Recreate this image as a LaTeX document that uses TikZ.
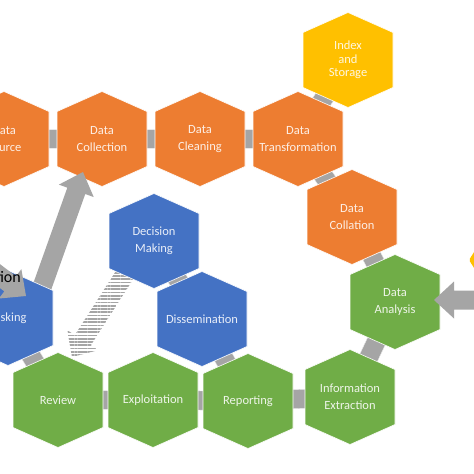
\documentclass[tikz,border=0pt]{standalone}
\usepackage{fontspec}
\setmainfont{Carlito}
\usetikzlibrary{calc, patterns.meta}

\definecolor{cellorange}{HTML}{ED7D31}
\definecolor{cellblue}{HTML}{4472C4}
\definecolor{cellgreen}{HTML}{70AD47}
\definecolor{cellyellow}{HTML}{FFC000}
\definecolor{linkgray}{HTML}{A5A5A5}

\pgfdeclarelayer{bg}
\pgfsetlayers{bg,main}

\tikzset{
    hexcell/.style={fill=#1, draw=white, line width=0.6pt},
    celltext/.style={text=white!88!#1, align=center, font=\fontsize{12.5}{17}\selectfont},
    link/.style={fill=linkgray, draw=white!75!linkgray, line width=0.4pt, minimum width=40pt, minimum height=19pt, inner sep=0pt, sloped},
    blockarrow/.style={fill=linkgray},
    stripes/.style={pattern={Lines[angle=0, distance=3.3pt, line width=1.7pt]}, pattern color=linkgray},
}

% name, position, colour, text
\newcommand{\hexcell}[5][]{%
    \path[hexcell=#4] (#3) ++(0,-\halfheight) -- ++(\halfwidth,\halfheight-\halfside) -- ++(0,2*\halfside)
        -- ++(-\halfwidth,\halfheight-\halfside) -- ++(-\halfwidth,-\halfheight+\halfside) -- ++(0,-2*\halfside) -- cycle;
    \node[celltext=#4, #1] (#2) at (#3) {#5};
}

% style, tail, tip
\newcommand{\blockarrow}[3]{%
    \coordinate (arrowbase) at ($(#3)!20pt!(#2)$);
    \path[#1] ($(#2)!9.5pt!90:(#3)$) -- ($(arrowbase)!9.5pt!-90:(#2)$) -- ($(arrowbase)!18.5pt!-90:(#2)$) -- (#3)
        -- ($(arrowbase)!18.5pt!90:(#2)$) -- ($(arrowbase)!9.5pt!90:(#2)$) -- ($(#2)!9.5pt!-90:(#3)$) -- cycle;
}

\begin{document}
\begin{tikzpicture}[x=1pt, y=-1pt]
    \pgfmathsetmacro{\halfwidth}{45}
    \pgfmathsetmacro{\halfheight}{47.5}
    \pgfmathsetmacro{\halfside}{27.5}

    \useasboundingbox (0,0) rectangle (474,474);
    \clip (0,0) rectangle (474,474);

    \coordinate (taskout) at (36,304);
    \coordinate (collin) at (83,172);
    \coordinate (decout) at (133,262);
    \coordinate (revin) at (72,357);
    \coordinate (anaext) at (490,300);
    \coordinate (anain) at (434,300);
    \coordinate (dirsrc) at (-38,247);
    \coordinate (taskin) at (26,296);

    % top row
    \hexcell{dsrc}{4,139}{cellorange}{Data\\Source}
    \hexcell{dcoll}{102,139}{cellorange}{Data\\Collection}
    \hexcell{dclean}{200,139}{cellorange}{Data\\Cleaning}
    \hexcell{dtrans}{298,139}{cellorange}{Data\\Transformation}
    \hexcell[font=\fontsize{12.5}{13.4}\selectfont]{index}{348,60}{cellyellow}{Index\\and\\Storage}
    \hexcell{dcolla}{352,217}{cellorange}{Data\\Collation}
    \hexcell{danal}{395,302}{cellgreen}{Data\\Analysis}

    % bottom row
    \hexcell{infox}{350,397}{cellgreen}{Information\\Extraction}
    \hexcell{report}{248,401}{cellgreen}{Reporting}
    \hexcell{exploit}{153,400}{cellgreen}{Exploitation}
    \hexcell{review}{58,400}{cellgreen}{Review}

    \hexcell{decis}{154,241}{cellblue}{Decision\\Making}
    \hexcell{dissem}{202,319}{cellblue}{Dissemination}

    \blockarrow{blockarrow}{taskout}{collin}
    \hexcell{task}{8,318}{cellblue}{Tasking}

    \blockarrow{blockarrow}{anaext}{anain}
    \blockarrow{blockarrow}{dirsrc}{taskin}
    \node[anchor=base east, font=\fontsize{16}{19}\selectfont, inner sep=0pt] (direction) at (21,282) {Direction};

    \path[fill=cellyellow, rounded corners=1.5pt] (469,260) -- (476,249) -- (490,249) -- (490,271) -- (476,271) -- cycle;

    \begin{pgfonlayer}{bg}
        \fill[white] (0,0) rectangle (474,474);
        \foreach \a/\b in {dsrc/dcoll, dcoll/dclean, dclean/dtrans, dtrans/index, dtrans/dcolla, dcolla/danal,
                danal/infox, infox/report, report/exploit, exploit/review, review/task, decis/dissem, dissem/report}
            \path (\a.center) -- (\b.center) node[link, midway] {};
        \blockarrow{stripes}{decout}{revin}
    \end{pgfonlayer}
\end{tikzpicture}
\end{document}
